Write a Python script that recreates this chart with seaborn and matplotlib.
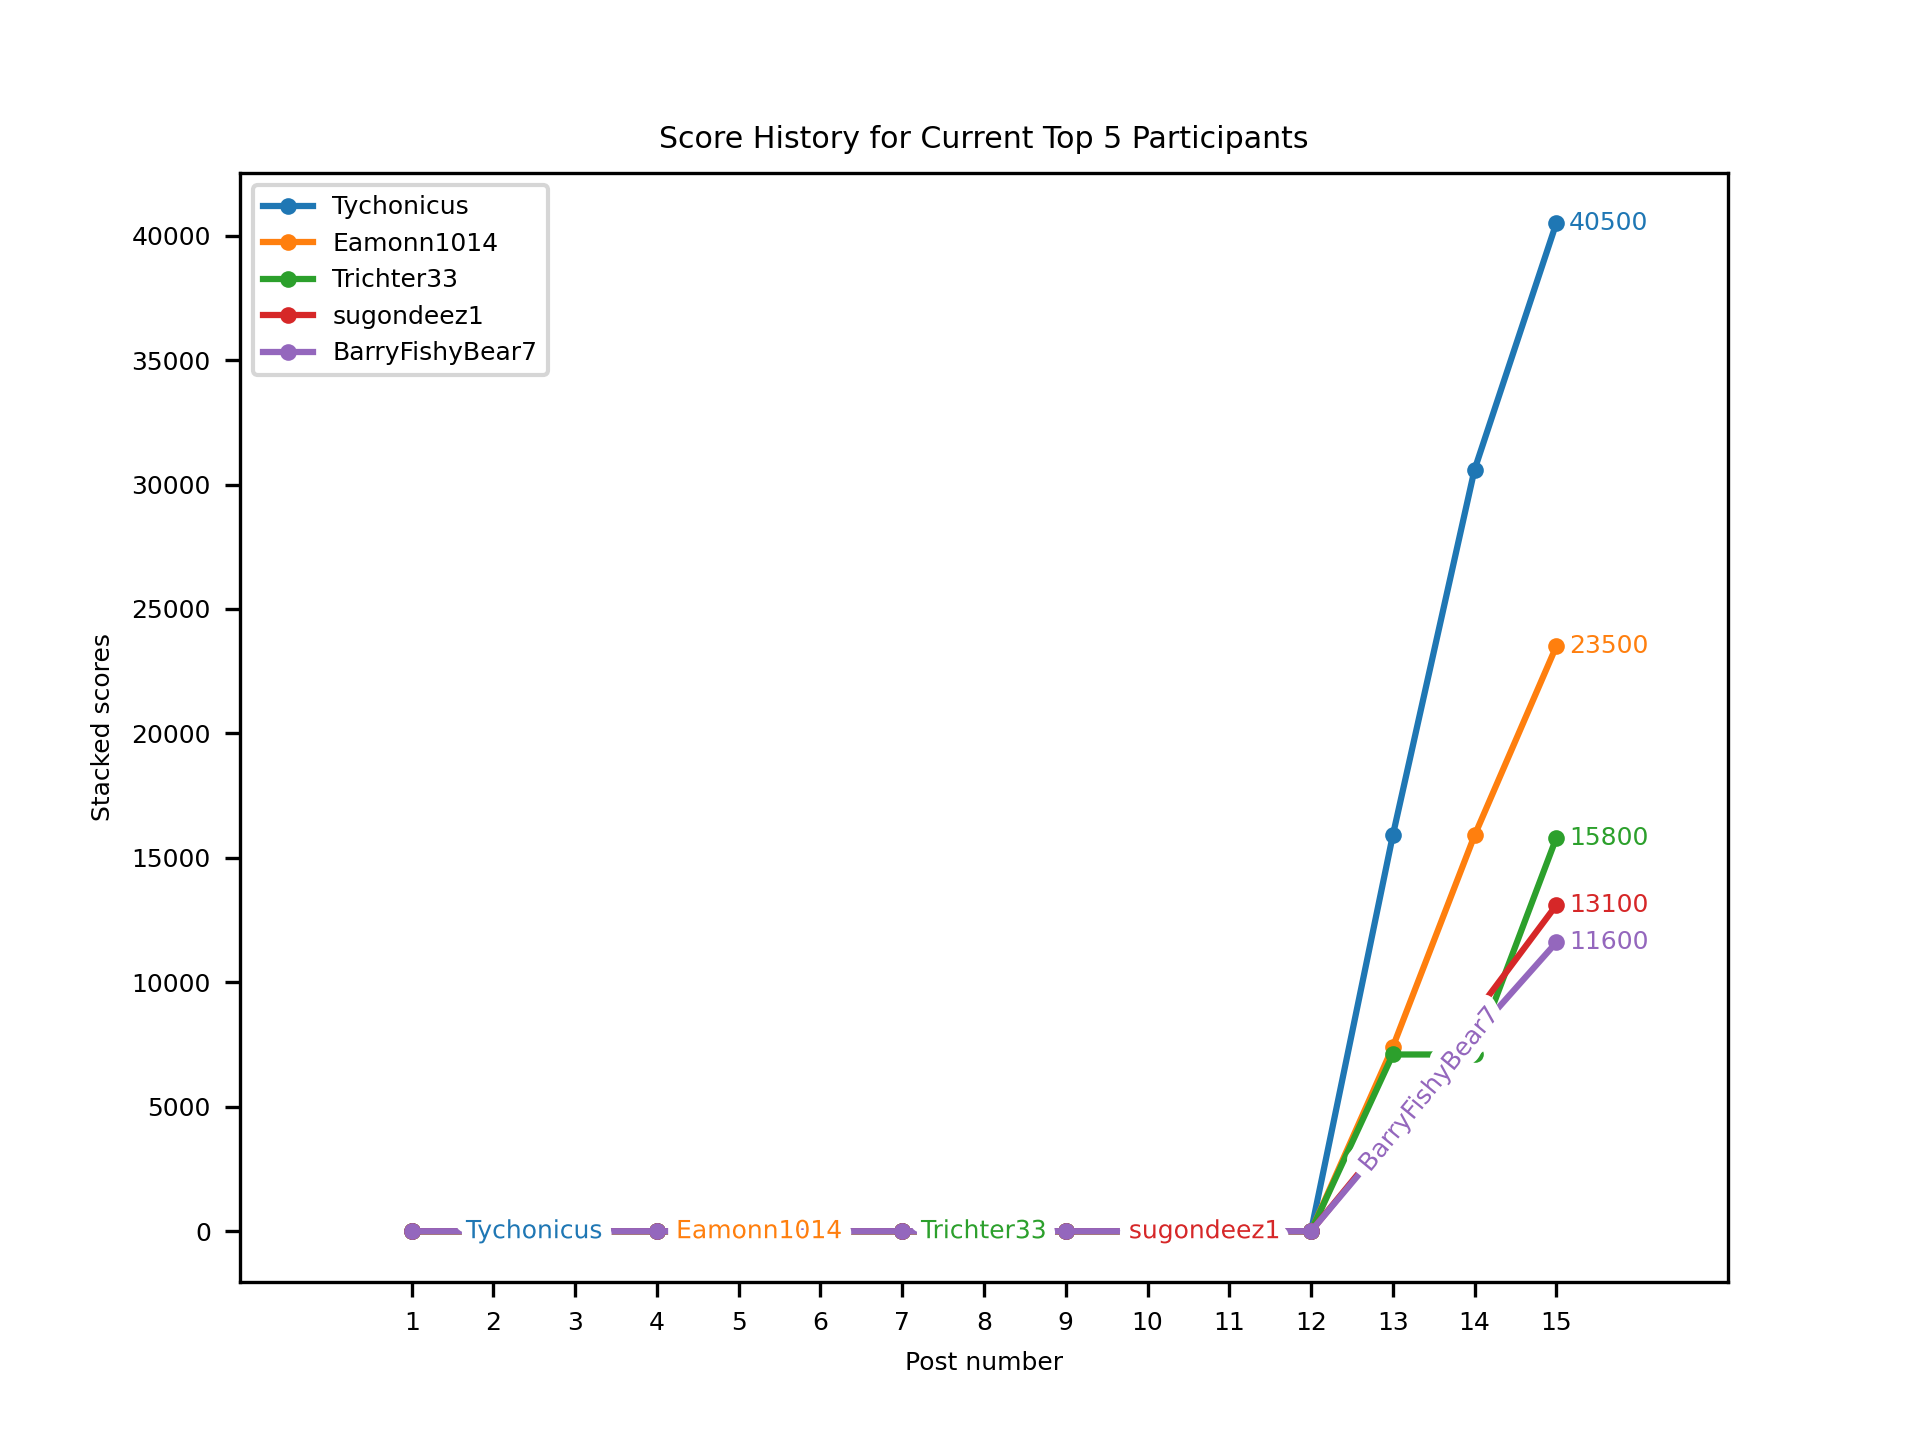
import numpy as np
import pandas as pd
import matplotlib.pyplot as plt
import matplotlib.patheffects as pe
import seaborn as sns

# scores (posts with no points are skipped)
posts = [1, 4, 7, 9, 12, 13, 14, 15]
names = ["Tychonicus", "Eamonn1014", "Trichter33", "sugondeez1", "BarryFishyBear7"]
tychonicus = [0, 0, 0, 0, 0, 15900, 30600, 40500]
eamonn = [0, 0, 0, 0, 0, 7400, 15900, 23500]
trichter = [0, 0, 0, 0, 0, 7100, 7100, 15800]
sugondeez = [0, 0, 0, 0, 0, 4000, 8700, 13100]
barry = [0, 0, 0, 0, 0, 3900, 7900, 11600]
# where the inline name labels sit along each line
label_x = [2.5, 5.25, 8.0, 10.7, 13.45]

series = [tychonicus, eamonn, trichter, sugondeez, barry]
df = pd.concat(
    [pd.DataFrame({"post": posts, "score": s, "name": n}) for n, s in zip(names, series)],
    ignore_index=True,
)
colors = sns.color_palette("tab10", len(names))

plt.rcParams["font.size"] = 6

fig, ax = plt.subplots(figsize=(6.4, 4.8), dpi=300)
sns.lineplot(data=df, x="post", y="score", hue="name", hue_order=names,
             palette=colors, marker="o", markersize=4, markeredgewidth=0,
             linewidth=1.5, sort=False, errorbar=None, ax=ax)

ax.set_xlim(1 - 2.1, 15 + 2.1)
ax.set_ylim(-2025, 42525)
ax.set_xticks(range(1, 16))
ax.set_xlabel("Post number")
ax.set_ylabel("Stacked scores")
ax.set_title("Score History for Current Top 5 Participants")

old = ax.get_legend()
handles = old.legend_handles
labels = [t.get_text() for t in old.get_texts()]
ax.legend(handles, labels, loc="upper left")

# final value next to last point
for n, s, c in zip(names, series, colors):
    ax.annotate(str(s[-1]), (posts[-1], s[-1]), xytext=(3, 0),
                textcoords="offset points", va="center", color=c)

# inline labels along each line
for n, s, c, lx in zip(names, series, colors, label_x):
    ly = np.interp(lx, posts, s)
    p1 = ax.transData.transform((lx - 0.05, np.interp(lx - 0.05, posts, s)))
    p2 = ax.transData.transform((lx + 0.05, np.interp(lx + 0.05, posts, s)))
    ang = np.degrees(np.arctan2(p2[1] - p1[1], p2[0] - p1[0]))
    ax.text(lx, ly, n, color=c, ha="center", va="center",
            rotation=ang, rotation_mode="anchor", zorder=5,
            path_effects=[pe.withStroke(linewidth=5, foreground="white")])

plt.savefig("out.png", dpi=300)
